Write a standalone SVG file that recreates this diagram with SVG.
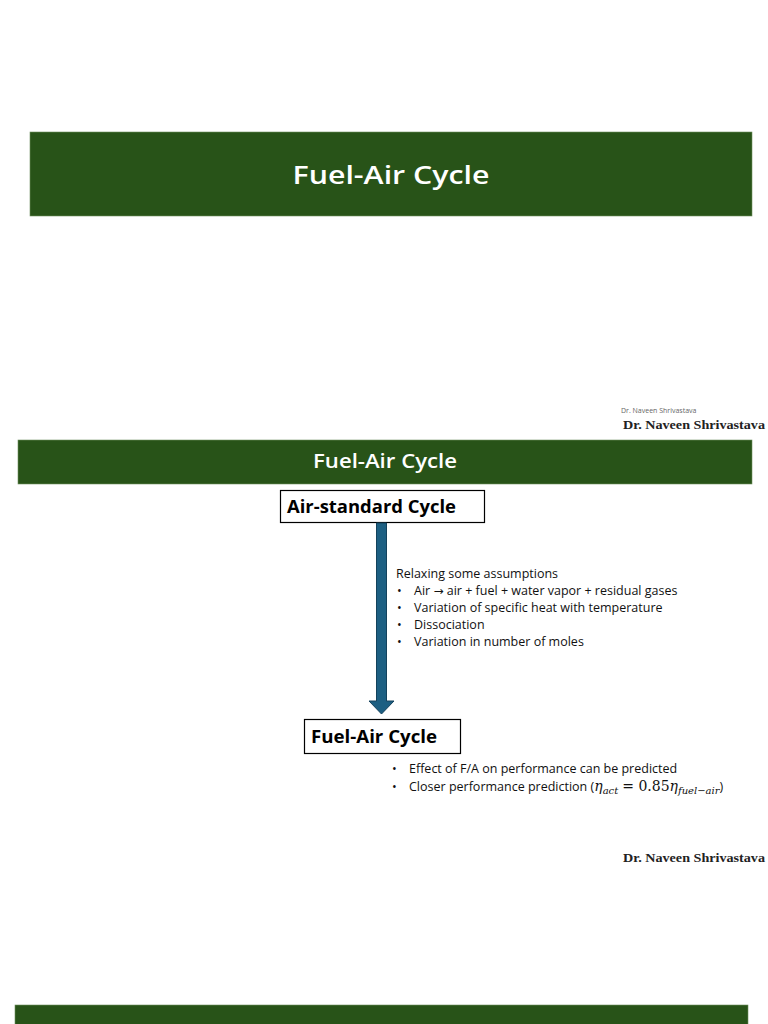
<svg xmlns="http://www.w3.org/2000/svg" width="768" height="1024" viewBox="0 0 768 1024">
<style>
.bar{fill:#285318;stroke:#6f8f60;stroke-width:0.6}
.ttl{font-family:"Open Sans","Noto Sans",sans-serif;font-weight:600;fill:#fff;text-anchor:middle}
.box{fill:#fff;stroke:#000;stroke-width:1.2}
.bx{font-family:"Open Sans","Noto Sans",sans-serif;font-weight:700;fill:#000;font-size:17px}
.t{font-family:"Open Sans","Noto Sans",sans-serif;font-size:12.5px;fill:#111}
.sig{font-family:"Liberation Serif",serif;font-weight:700;font-size:12.5px;fill:#222}
.m{font-family:"DejaVu Serif","Liberation Serif",serif;font-style:italic}
.mn{font-family:"DejaVu Serif","Liberation Serif",serif;font-style:normal}
</style>
<rect width="768" height="1024" fill="#fff"/>
<g id="banner1">
<rect class="bar" x="30" y="132" width="722" height="84"/>
<text class="ttl" x="391" y="184" font-size="26" textLength="197" lengthAdjust="spacingAndGlyphs">Fuel-Air Cycle</text>
</g>
<text x="621" y="413" font-family="Open Sans, sans-serif" font-size="7" fill="#666">Dr. Naveen Shrivastava</text>
<text class="sig" x="623" y="429" textLength="142" lengthAdjust="spacingAndGlyphs">Dr. Naveen Shrivastava</text>
<g id="banner2">
<rect class="bar" x="18" y="440" width="734" height="44"/>
<text class="ttl" x="385" y="468" font-size="20" textLength="144" lengthAdjust="spacingAndGlyphs">Fuel-Air Cycle</text>
</g>
<g id="node-air-standard">
<rect class="box" x="280.5" y="490.5" width="204" height="32"/>
<text class="bx" x="287" y="513" textLength="169" lengthAdjust="spacingAndGlyphs">Air-standard Cycle</text>
</g>
<g id="connectors">
<path d="M376.5 523 H386.5 V701 H394 L381.5 714 L369 701 H376.5 Z" fill="#1d5f82" stroke="#14425c" stroke-width="1"/>
</g>
<g id="label-assumptions" class="t">
<text x="396" y="578">Relaxing some assumptions</text>
<text x="397" y="595">•</text><text x="414" y="595">Air <tspan font-family="DejaVu Sans, sans-serif" font-size="12">→</tspan> air + fuel + water vapor + residual gases</text>
<text x="397" y="612">•</text><text x="414" y="612">Variation of specific heat with temperature</text>
<text x="397" y="629">•</text><text x="414" y="629">Dissociation</text>
<text x="397" y="646">•</text><text x="414" y="646">Variation in number of moles</text>
</g>
<g id="node-fuel-air">
<rect class="box" x="304.5" y="719.5" width="156" height="34"/>
<text class="bx" x="311" y="743" textLength="126" lengthAdjust="spacingAndGlyphs">Fuel-Air Cycle</text>
</g>
<g id="label-results" class="t">
<text x="392" y="773">•</text><text x="409" y="773">Effect of F/A on performance can be predicted</text>
<text x="392" y="791">•</text>
<text x="409" y="791">Closer performance prediction (<tspan class="m" font-size="14">η</tspan><tspan class="m" font-size="10" dy="3">act</tspan><tspan class="mn" font-size="14" dy="-3" dx="4">= 0.85</tspan><tspan class="m" font-size="14">η</tspan><tspan class="m" font-size="10" dy="3">fuel−air</tspan><tspan dy="-3">)</tspan></text>
</g>
<text class="sig" x="623" y="862" textLength="142" lengthAdjust="spacingAndGlyphs">Dr. Naveen Shrivastava</text>
<rect class="bar" x="15" y="1005" width="733" height="22"/>
</svg>
